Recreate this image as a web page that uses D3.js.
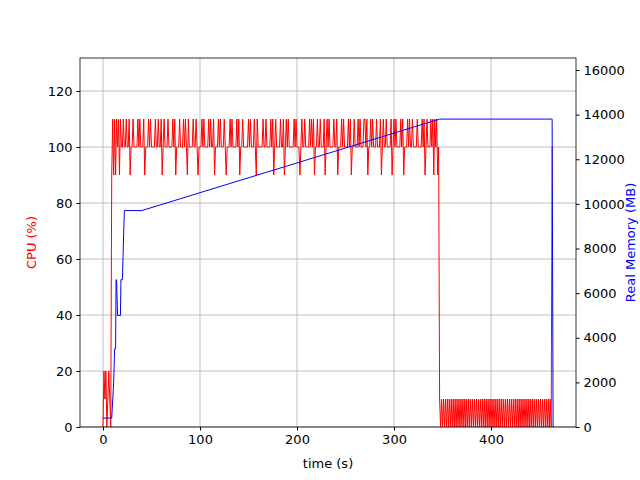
<!DOCTYPE html>
<html><head><meta charset="utf-8">
<script src="https://cdn.jsdelivr.net/npm/d3@7"></script>
<style>body{margin:0;background:#fff}text{font-family:"DejaVu Sans",sans-serif}</style>
</head><body><svg id="c" width="640" height="480"></svg>
<script>
// CPU samples, one per second from t=0; code: 0=0,1=10,2=20,9=90,A=100,B=110
const cpuCodes =
  "0212012109" +
  "B9B9BAB9BA" +
  "ABAABAAB9AABAAAABABAAAB9AAABABAAAABAABAAB9ABAAABAA" +
  "AABAB9AAABAAABABA9BAAAABAABA9AAABABAAAABABAAB9AAAB" +
  "ABAAABA9AAABABAAAABAB9AABAAAAABABAAABA9BAAAAABAABA" +
  "AAABAB9ABAAAABAAB9ABABAAAAABABAAA9ABAABAAAABABAB9A" +
  "ABAABAAAB9ABABAAAABAAB9AAABABAAAABAB9AABAAABABAAAB" +
  "BAB9AABABAAABAAAB9ABAABAAAAB9ABABAAAABAB9AAABABAAB" +
  "AAAABAAAABAB9ABAAABAB9BAB9A" +
  "10101010101010101010101010101010101010101010101010" +
  "10101010101010101010101010101010101010101010101010" +
  "1010101010101010" +
  "A";
const codeVal = {"0":0,"1":10,"2":20,"9":90,"A":100,"B":110};
const memTime = [0, 9, 11, 12, 13, 13.5, 14, 15, 15.5, 18, 18.5, 20, 22, 40, 347, 463, 464];
const memMB   = [400, 400, 2000, 3500, 3500, 6600, 6600, 5000, 5000, 5000, 6600, 6600, 9700, 9700, 13800, 13800, 0];
const xTicks = [0, 100, 200, 300, 400];
const yTicks = [0, 20, 40, 60, 80, 100, 120];
const y2Ticks = [0, 2000, 4000, 6000, 8000, 10000, 12000, 14000, 16000];

const cpu = Array.from(cpuCodes, (c, i) => [i, codeVal[c]]);
const svg = d3.select("#c");
const L = 80, R = 576, T = 58, B = 427;
const x = d3.scaleLinear().domain([-23.7, 487.6]).range([L, R]);
const y = d3.scaleLinear().domain([0, 131.8]).range([B, T]);
const y2 = d3.scaleLinear().domain([0, 16538]).range([B, T]);

const g = svg.append("g");
g.selectAll(".gx").data(xTicks).join("line").attr("x1", d => x(d)).attr("x2", d => x(d))
  .attr("y1", T).attr("y2", B).attr("stroke", "#b0b0b0").attr("stroke-width", 0.8);
g.selectAll(".gy").data(yTicks).join("line").attr("y1", d => y(d)).attr("y2", d => y(d))
  .attr("x1", L).attr("x2", R).attr("stroke", "#b0b0b0").attr("stroke-width", 0.8);

svg.append("path").datum(cpu).attr("fill", "none").attr("stroke", "red").attr("stroke-width", 1)
  .attr("d", d3.line().x(d => x(d[0])).y(d => y(d[1])));
svg.append("path").datum(memTime.map((t, i) => [t, memMB[i]])).attr("fill", "none").attr("stroke", "blue").attr("stroke-width", 1)
  .attr("d", d3.line().x(d => x(d[0])).y(d => y2(d[1])));

const fmt = d3.format("d");
function style(a){ a.selectAll("text").style("font-size", "13px").style("font-family", "DejaVu Sans").attr("fill", "#000");
  a.selectAll("line").attr("stroke", "#000"); a.select(".domain").remove(); }
svg.append("g").attr("transform", `translate(0,${B})`).call(d3.axisBottom(x).tickValues(xTicks).tickFormat(fmt).tickSize(3.5).tickPadding(4)).call(style);
svg.append("g").attr("transform", `translate(${L},0)`).call(d3.axisLeft(y).tickValues(yTicks).tickFormat(fmt).tickSize(3.5).tickPadding(4)).call(style);
svg.append("g").attr("transform", `translate(${R},0)`).call(d3.axisRight(y2).tickValues(y2Ticks).tickFormat(fmt).tickSize(3.5).tickPadding(4)).call(style);
svg.append("rect").attr("x", L).attr("y", T).attr("width", R - L).attr("height", B - T)
  .attr("fill", "none").attr("stroke", "#000").attr("stroke-width", 0.8);

svg.append("text").attr("x", (L + R) / 2).attr("y", 468).attr("text-anchor", "middle").style("font-size", "13px").text("time (s)");
svg.append("text").attr("transform", `translate(36,${(T + B) / 2}) rotate(-90)`).attr("text-anchor", "middle")
  .attr("fill", "red").style("font-size", "13px").text("CPU (%)");
svg.append("text").attr("transform", `translate(635,${(T + B) / 2}) rotate(-90)`).attr("text-anchor", "middle")
  .attr("fill", "blue").style("font-size", "13px").text("Real Memory (MB)");
</script></body></html>
